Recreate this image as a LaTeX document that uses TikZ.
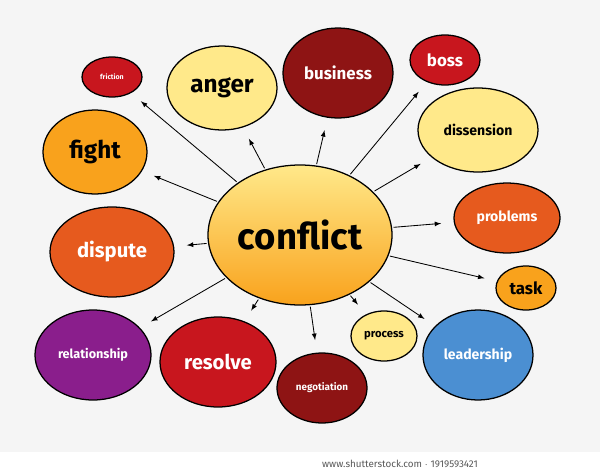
\documentclass[tikz,border=0pt]{standalone}
\usepackage{fontspec}
\setmainfont{Fira Sans}
\usetikzlibrary{shapes.geometric}
\tikzset{>=latex,
  sz/.style 2 args={minimum width=#1*0.025cm, minimum height=#2*0.025cm},
  bub/.style={ellipse, draw=black, line width=0.9pt, inner sep=0pt, font=\bfseries},
  dk/.style={bub, text=white},
  lt/.style={bub, text=black},
  arr/.style={->, line width=0.6pt, shorten >=9pt, shorten <=1pt}}
\definecolor{cyel}{HTML}{FFE98A}
\definecolor{corg}{HTML}{F9A21C}
\definecolor{cred}{HTML}{C8161E}
\definecolor{cdrk}{HTML}{8E1414}
\definecolor{cora}{HTML}{E65A1E}
\definecolor{cpur}{HTML}{8A1E8C}
\definecolor{cblu}{HTML}{4B8FD2}
\begin{document}
\begin{tikzpicture}[x=0.025cm, y=-0.025cm]
  \fill[gray!8] (0,0) rectangle (600,474);
  \node[lt, sz={184}{140}, top color=cyel, bottom color=corg,
        font=\bfseries\fontsize{26}{26}\selectfont] (conflict) at (300,235) {conflict};
  \node[dk, fill=cred, sz={60}{40}, font=\bfseries\tiny] (friction) at (112,77) {friction};
  \node[lt, fill=cyel, sz={110}{84}, font=\bfseries\LARGE] (anger) at (222,88) {anger};
  \node[dk, fill=cdrk, sz={110}{90}, font=\bfseries\large] (business) at (338,73) {business};
  \node[dk, fill=cred, sz={70}{50}, font=\bfseries\large] (boss) at (445,60) {boss};
  \node[lt, fill=cyel, sz={120}{84}, font=\bfseries\normalsize] (dissension) at (478,130) {dissension};
  \node[lt, fill=corg, sz={104}{84}, font=\bfseries\LARGE] (fight) at (95,152) {fight};
  \node[dk, fill=cora, sz={106}{70}, font=\bfseries\normalsize] (problems) at (507,218) {problems};
  \node[dk, fill=cora, sz={124}{90}, font=\bfseries\Large] (dispute) at (112,252) {dispute};
  \node[lt, fill=corg, sz={60}{44}, font=\bfseries\large] (task) at (526,288) {task};
  \node[dk, fill=cpur, sz={116}{90}, font=\bfseries\small] (relationship) at (93,355) {relationship};
  \node[dk, fill=cred, sz={116}{90}, font=\bfseries\Large] (resolve) at (218,362) {resolve};
  \node[dk, fill=cdrk, sz={90}{70}, font=\bfseries\scriptsize] (negotiation) at (322,388) {negotiation};
  \node[lt, fill=cyel, sz={66}{50}, font=\bfseries\footnotesize] (process) at (384,336) {process};
  \node[dk, fill=cblu, sz={110}{90}, font=\bfseries\normalsize] (leadership) at (478,355) {leadership};
  \foreach \n in {friction,anger,business,boss,dissension,fight,problems,dispute,task,relationship,resolve,negotiation,process,leadership}
    \draw[arr] (conflict) -- (\n);
  \fill[white] (0,452) rectangle (600,474);
  \node[text=gray!70!black, font=\scriptsize] (credit) at (400,464) {www.shutterstock.com $\cdot$ 1919593421};
\end{tikzpicture}
\end{document}
